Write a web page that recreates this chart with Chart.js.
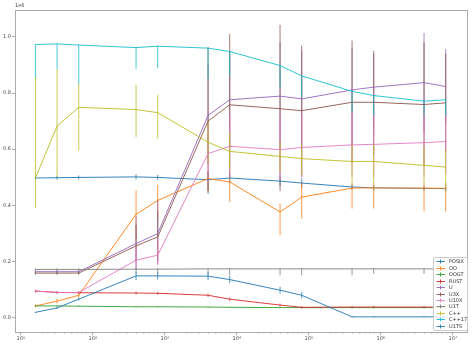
<!DOCTYPE html>
<html>
<head>
<meta charset="utf-8">
<script src="https://cdn.jsdelivr.net/npm/chart.js@4.4.0/dist/chart.umd.min.js"></script>
<style>
  html, body { margin: 0; padding: 0; background: #fff; }
  #wrap { width: 474px; height: 345px; }
</style>
</head>
<body>
<div id="wrap"><canvas id="chBench"></canvas></div>
<script>
/* Throughput per dimensione (asse x log), valori in unità di 1e6.
   Ogni serie: valore + estremi barra d'errore (lo / hi, asimmetrici). */

const sizes = [16, 32, 64, 400, 800, 4000, 8000, 40000, 80000, 400000, 800000, 4000000, 8000000];
const labels = ['POSIX', 'OO', 'OOGT', 'RUST', 'U', 'U3X', 'U10X', 'U1T', 'C++', 'C++17', 'U1TS'];
const xTicks = [1e1, 1e2, 1e3, 1e4, 1e5, 1e6, 1e7];
const yTicks = [0.0, 0.2, 0.4, 0.6, 0.8, 1.0];

const posix   = [0.497, 0.498, 0.499, 0.501, 0.499, 0.491, 0.497, 0.486, 0.479, 0.465, 0.462, 0.460, 0.459];
const posixLo = [0.490, 0.491, 0.492, 0.492, 0.490, 0.440, 0.478, 0.468, 0.462, 0.455, 0.452, 0.450, 0.449];
const posixHi = [0.504, 0.505, 0.506, 0.510, 0.508, 0.520, 0.515, 0.504, 0.496, 0.475, 0.472, 0.470, 0.469];

const oo   = [0.041, 0.058, 0.079, 0.368, 0.417, 0.495, 0.483, 0.376, 0.429, 0.461, 0.462, 0.461, 0.460];
const ooLo = [0.035, 0.050, 0.070, 0.280, 0.350, 0.450, 0.411, 0.293, 0.352, 0.388, 0.388, 0.378, 0.378];
const ooHi = [0.047, 0.066, 0.088, 0.453, 0.473, 0.520, 0.500, 0.406, 0.483, 0.480, 0.480, 0.480, 0.480];

const oogt   = [0.041, 0.041, 0.040, 0.038, 0.038, 0.037, 0.036, 0.035, 0.035, 0.035, 0.035, 0.035, 0.035];
const oogtLo = [0.039, 0.039, 0.038, 0.036, 0.036, 0.035, 0.034, 0.033, 0.033, 0.033, 0.033, 0.033, 0.033];
const oogtHi = [0.043, 0.043, 0.042, 0.040, 0.040, 0.039, 0.038, 0.037, 0.037, 0.037, 0.037, 0.037, 0.037];

const rust   = [0.094, 0.089, 0.088, 0.087, 0.086, 0.079, 0.065, 0.044, 0.036, 0.037, 0.037, 0.037, 0.037];
const rustLo = [0.089, 0.084, 0.083, 0.082, 0.081, 0.073, 0.059, 0.039, 0.032, 0.033, 0.033, 0.033, 0.033];
const rustHi = [0.099, 0.094, 0.093, 0.092, 0.091, 0.085, 0.071, 0.049, 0.040, 0.041, 0.041, 0.041, 0.041];

const u   = [0.163, 0.163, 0.163, 0.263, 0.299, 0.720, 0.776, 0.789, 0.779, 0.811, 0.821, 0.837, 0.823];
const uLo = [0.155, 0.155, 0.155, 0.170, 0.190, 0.550, 0.600, 0.600, 0.600, 0.620, 0.650, 0.660, 0.690];
const uHi = [0.168, 0.168, 0.168, 0.360, 0.420, 0.900, 0.950, 0.980, 0.950, 0.960, 0.940, 1.014, 0.957];

const u3x   = [0.158, 0.158, 0.158, 0.255, 0.287, 0.700, 0.758, 0.744, 0.737, 0.767, 0.767, 0.759, 0.765];
const u3xLo = [0.152, 0.152, 0.152, 0.200, 0.200, 0.450, 0.500, 0.450, 0.500, 0.550, 0.580, 0.540, 0.590];
const u3xHi = [0.162, 0.162, 0.162, 0.330, 0.380, 0.963, 1.011, 1.043, 0.969, 0.987, 0.951, 0.980, 0.940];

const u10x   = [0.094, 0.089, 0.089, 0.204, 0.222, 0.584, 0.610, 0.598, 0.606, 0.615, 0.617, 0.623, 0.627];
const u10xLo = [0.090, 0.085, 0.085, 0.170, 0.186, 0.480, 0.500, 0.490, 0.500, 0.500, 0.500, 0.500, 0.510];
const u10xHi = [0.098, 0.093, 0.093, 0.250, 0.280, 0.700, 0.720, 0.720, 0.720, 0.730, 0.730, 0.740, 0.740];

const u1t   = [0.171, 0.171, 0.171, 0.172, 0.172, 0.173, 0.173, 0.173, 0.173, 0.173, 0.173, 0.173, 0.173];
const u1tLo = [0.157, 0.157, 0.157, 0.157, 0.157, 0.150, 0.150, 0.150, 0.150, 0.150, 0.155, 0.155, 0.155];
const u1tHi = [0.175, 0.175, 0.175, 0.176, 0.176, 0.176, 0.176, 0.176, 0.176, 0.176, 0.176, 0.176, 0.176];

const cpp   = [0.497, 0.682, 0.749, 0.741, 0.730, 0.625, 0.592, 0.574, 0.566, 0.556, 0.556, 0.542, 0.536];
const cppLo = [0.390, 0.500, 0.595, 0.643, 0.637, 0.550, 0.530, 0.518, 0.510, 0.480, 0.480, 0.480, 0.470];
const cppHi = [0.860, 0.886, 0.833, 0.829, 0.794, 0.700, 0.660, 0.630, 0.620, 0.620, 0.620, 0.610, 0.600];

const cpp17   = [0.973, 0.975, 0.971, 0.962, 0.967, 0.960, 0.948, 0.898, 0.861, 0.806, 0.791, 0.771, 0.776];
const cpp17Lo = [0.856, 0.886, 0.833, 0.886, 0.888, 0.850, 0.860, 0.820, 0.785, 0.732, 0.720, 0.720, 0.720];
const cpp17Hi = [0.975, 0.977, 0.973, 0.964, 0.969, 0.962, 0.950, 0.900, 0.863, 0.808, 0.793, 0.773, 0.778];

const u1ts   = [0.018, 0.034, 0.065, 0.148, 0.148, 0.147, 0.135, 0.097, 0.079, 0.002, 0.002, 0.002, 0.002];
const u1tsLo = [0.016, 0.031, 0.060, 0.133, 0.135, 0.133, 0.122, 0.085, 0.068, 0.000, 0.000, 0.000, 0.000];
const u1tsHi = [0.020, 0.037, 0.070, 0.163, 0.161, 0.161, 0.148, 0.109, 0.090, 0.004, 0.004, 0.004, 0.004];

const series = [
  [posix, posixLo, posixHi], [oo, ooLo, ooHi], [oogt, oogtLo, oogtHi], [rust, rustLo, rustHi],
  [u, uLo, uHi], [u3x, u3xLo, u3xHi], [u10x, u10xLo, u10xHi], [u1t, u1tLo, u1tHi],
  [cpp, cppLo, cppHi], [cpp17, cpp17Lo, cpp17Hi], [u1ts, u1tsLo, u1tsHi]
];
const colors = ['#1f77b4', '#ff7f0e', '#2ca02c', '#d62728', '#9467bd', '#8c564b',
                '#e377c2', '#7f7f7f', '#bcbd22', '#17becf', '#1f77b4'];

const FONT = 'DejaVu Sans';
const SUP = { '1': '\u00b9', '2': '\u00b2', '3': '\u00b3', '4': '\u2074', '5': '\u2075', '6': '\u2076', '7': '\u2077' };

// barre d'errore: tutte sotto le linee (come matplotlib, barsabove=False)
const errBars = {
  id: 'errBars',
  beforeDatasetsDraw(chart) {
    const { ctx, chartArea: a, scales: { x, y } } = chart;
    ctx.save();
    ctx.beginPath();
    ctx.rect(a.left, a.top, a.right - a.left, a.bottom - a.top);
    ctx.clip();
    ctx.lineWidth = 0.8;
    chart.data.datasets.forEach(ds => {
      ctx.strokeStyle = ds.borderColor;
      ds.lo.forEach((lo, i) => {
        const px = x.getPixelForValue(sizes[i]);
        ctx.beginPath();
        ctx.moveTo(px, y.getPixelForValue(lo));
        ctx.lineTo(px, y.getPixelForValue(ds.hi[i]));
        ctx.stroke();
      });
    });
    ctx.restore();
  }
};

// cornice, tick minori, offset "1e6" e legenda in basso a destra
const decor = {
  id: 'decor',
  afterDraw(chart) {
    const { ctx, chartArea: a, scales: { x } } = chart;
    ctx.save();
    ctx.strokeStyle = '#aaa';
    ctx.lineWidth = 1;
    ctx.strokeRect(Math.round(a.left) + 0.5, Math.round(a.top) + 0.5,
                   Math.round(a.right - a.left), Math.round(a.bottom - a.top));
    ctx.beginPath();
    for (let k = 0; k < 8; k++) {
      for (let m = 2; m < 10; m++) {
        const v = m * Math.pow(10, k);
        if (v < x.min || v > x.max) continue;
        const px = Math.round(x.getPixelForValue(v)) + 0.5;
        ctx.moveTo(px, a.bottom);
        ctx.lineTo(px, a.bottom + 1.5);
      }
    }
    ctx.stroke();

    ctx.fillStyle = '#444';
    ctx.font = '5px "' + FONT + '"';
    ctx.textAlign = 'left';
    ctx.textBaseline = 'middle';
    ctx.fillText('1e6', a.left, 6);

    // legenda
    const lx = 433.5, ly = 257.5, lw = 34, lh = 73;
    ctx.fillStyle = 'rgba(255,255,255,0.85)';
    ctx.strokeStyle = '#ccc';
    ctx.beginPath();
    ctx.roundRect(lx, ly, lw, lh, 1.5);
    ctx.fill();
    ctx.stroke();
    ctx.lineWidth = 0.9;
    chart.data.datasets.forEach((ds, i) => {
      const yy = Math.round(261.3 + i * 6.44) + 0.5;
      ctx.strokeStyle = ds.borderColor;
      ctx.beginPath();
      ctx.moveTo(436.5, yy);
      ctx.lineTo(445, yy);
      ctx.moveTo(440.5, yy - 2);
      ctx.lineTo(440.5, yy + 2);
      ctx.stroke();
      ctx.fillStyle = '#333';
      ctx.fillText(ds.label, 449, yy);
    });
    ctx.restore();
  }
};

const datasets = series.map(([vals, lo, hi], i) => ({
  label: labels[i],
  data: sizes.map((s, j) => ({ x: s, y: vals[j] })),
  lo, hi,
  borderColor: colors[i],
  backgroundColor: colors[i],
  borderWidth: 0.9,
  pointRadius: 0,
  tension: 0,
  order: labels.length - i   // le serie successive sopra le precedenti
}));

new Chart(document.getElementById('chBench'), {
  type: 'line',
  data: { datasets },
  options: {
    responsive: true, maintainAspectRatio: false, animation: false, devicePixelRatio: 1,
    layout: { padding: { top: 10, right: 7, left: 0, bottom: 0 } },
    plugins: { legend: { display: false }, tooltip: { enabled: false } },
    scales: {
      x: {
        type: 'logarithmic', min: 8.33, max: 1.58e7,
        afterBuildTicks: s => { s.ticks = xTicks.map(v => ({ value: v, major: true })); },
        afterFit: s => { s.height = 13; },
        ticks: {
          autoSkip: false, maxRotation: 0, padding: 1,
          color: '#444', font: { family: FONT, size: 5 },
          callback: v => '10' + SUP[String(Math.round(Math.log10(v)))]
        },
        grid: { drawOnChartArea: false, tickLength: 3, tickColor: '#aaa' },
        border: { color: '#aaa' }
      },
      y: {
        min: -0.052, max: 1.096,
        afterBuildTicks: s => { s.ticks = yTicks.map(v => ({ value: v })); },
        afterFit: s => { s.width = 15; },
        ticks: {
          padding: 1, color: '#444', font: { family: FONT, size: 5 },
          callback: v => v.toFixed(1)
        },
        grid: { drawOnChartArea: false, tickLength: 3, tickColor: '#aaa' },
        border: { color: '#aaa' }
      }
    }
  },
  plugins: [errBars, decor]
});
</script>
</body>
</html>
